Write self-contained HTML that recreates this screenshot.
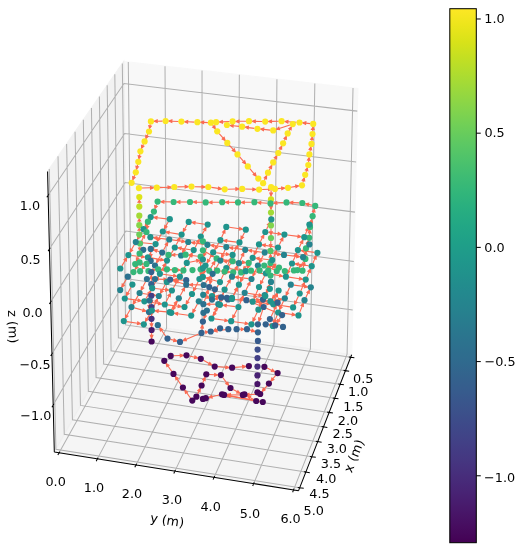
<!DOCTYPE html>
<html><head><meta charset="utf-8"><style>
html,body{margin:0;padding:0;background:#fff;}
#w{position:relative;width:523px;height:550px;overflow:hidden;}
#w>svg{position:absolute;left:0;top:0;}
text{font-family:"DejaVu Sans","Liberation Sans",sans-serif;font-size:12.8px;fill:#000;}
</style></head><body><div id="w">
<svg width="523" height="550" viewBox="0 0 523 550">
<path d="M126.90,322.54L351.67,354.74L357.81,88.53L123.71,61.39Z" fill="#f2f2f2" stroke="#f2f2f2" stroke-width="1.28" stroke-linejoin="miter" opacity="0.5"/>
<path d="M126.90,322.54L54.32,452.06L47.57,171.43L123.71,61.39Z" fill="#e6e6e6" stroke="#e6e6e6" stroke-width="1.28" stroke-linejoin="miter" opacity="0.5"/>
<path d="M126.90,322.54L54.32,452.06L298.59,490.66L351.67,354.74Z" fill="#ececec" stroke="#ececec" stroke-width="1.28" stroke-linejoin="miter" opacity="0.5"/>
<path d="M350.70,357.23L125.57,324.91L122.32,63.40M345.46,370.64L118.39,337.72L114.81,74.24M340.12,384.30L111.09,350.76L107.17,85.29M334.68,398.23L103.64,364.04L99.37,96.56M329.14,412.42L96.06,377.57L91.43,108.04M323.49,426.89L88.34,391.36L83.32,119.76M317.73,441.64L80.46,405.41L75.06,131.70M311.85,456.69L72.44,419.74L66.62,143.89M305.86,472.03L64.25,434.34L58.02,156.33M299.75,487.69L55.91,449.24L49.24,169.02M128.28,61.92L131.29,323.17L59.09,452.81M165.01,66.18L166.59,328.23L97.38,458.87M202.03,70.47L202.15,333.32L135.98,464.97M239.34,74.79L237.97,338.45L174.90,471.12M276.94,79.15L274.07,343.62L214.13,477.32M314.83,83.54L310.43,348.83L253.69,483.57M353.02,87.97L347.07,354.08L293.58,489.87M53.19,405.09L126.36,278.69L352.70,310.08M51.96,353.93L125.78,230.99L353.82,261.47M50.71,301.93L125.19,182.58L354.96,212.13M49.44,249.07L124.59,133.44L356.12,162.02M48.15,195.33L123.98,83.55L357.29,111.13" fill="none" stroke="#b0b0b0" stroke-width="1.022"/>
<path d="M351.67,354.74L298.59,490.66M54.32,452.06L298.59,490.66M54.32,452.06L47.57,171.43M348.85,356.96L354.38,357.76M343.60,370.37L349.18,371.18M338.25,384.03L343.88,384.85M332.79,397.95L338.47,398.79M327.23,412.13L332.96,412.99M321.56,426.60L327.35,427.47M315.79,441.34L321.62,442.24M309.89,456.38L315.78,457.29M303.88,471.72L309.83,472.65M297.75,487.38L303.75,488.32M59.72,451.68L57.83,455.08M97.99,457.72L96.17,461.15M136.56,463.81L134.82,467.27M175.45,469.96L173.79,473.44M214.66,476.15L213.08,479.66M254.19,482.39L252.70,485.93M294.05,488.68L292.64,492.25M53.83,403.98L51.91,407.30M52.61,352.85L50.67,356.08M51.36,300.88L49.40,304.02M50.10,248.05L48.12,251.10M48.81,194.35L46.81,197.29" fill="none" stroke="#000" stroke-width="1.022" stroke-linecap="butt"/>
<g id="arrows" stroke="#fb6a52" fill="#fb6a52" stroke-width="1.1"><line x1="310.2" y1="123.6" x2="305.8" y2="123.1"/><path d="M302.7,122.8L305.9,121.8L305.6,124.4Z"/><line x1="296.5" y1="122.3" x2="287.9" y2="121.7"/><path d="M284.8,121.4L288.0,120.4L287.8,123.0Z"/><line x1="278.6" y1="121.3" x2="271.5" y2="121.4"/><path d="M268.4,121.5L271.5,120.1L271.5,122.7Z"/><line x1="262.2" y1="121.5" x2="255.3" y2="121.4"/><path d="M252.2,121.3L255.3,120.1L255.3,122.7Z"/><line x1="246.0" y1="121.2" x2="238.9" y2="121.3"/><path d="M235.8,121.4L238.9,120.0L238.9,122.6Z"/><line x1="229.6" y1="121.5" x2="222.4" y2="121.9"/><path d="M219.3,122.0L222.3,120.6L222.5,123.2Z"/><line x1="207.9" y1="122.6" x2="203.7" y2="122.4"/><path d="M200.6,122.3L203.7,121.1L203.6,123.7Z"/><line x1="194.4" y1="122.1" x2="187.7" y2="121.8"/><path d="M184.6,121.7L187.7,120.5L187.6,123.1Z"/><line x1="178.4" y1="121.5" x2="171.9" y2="121.2"/><path d="M168.8,121.1L171.9,119.9L171.8,122.5Z"/><line x1="162.6" y1="121.1" x2="157.2" y2="121.2"/><path d="M154.1,121.3L157.2,119.9L157.2,122.5Z"/><line x1="150.3" y1="124.3" x2="150.0" y2="126.0"/><path d="M149.6,128.4L148.8,125.7L151.3,126.2Z"/><line x1="147.8" y1="134.2" x2="147.0" y2="135.9"/><path d="M145.9,138.5L145.8,135.4L148.2,136.5Z"/><line x1="143.4" y1="144.2" x2="142.7" y2="145.8"/><path d="M141.6,148.4L141.5,145.3L143.9,146.3Z"/><line x1="139.8" y1="154.2" x2="139.5" y2="156.0"/><path d="M138.9,158.7L138.2,155.8L140.7,156.3Z"/><line x1="137.6" y1="164.7" x2="137.2" y2="166.5"/><path d="M136.5,169.2L135.9,166.2L138.4,166.8Z"/><line x1="134.7" y1="175.1" x2="133.9" y2="177.0"/><path d="M132.8,179.8L132.7,176.5L135.1,177.5Z"/><line x1="141.9" y1="188.0" x2="150.5" y2="187.8"/><path d="M153.6,187.8L150.5,189.1L150.5,186.5Z"/><line x1="159.8" y1="187.6" x2="168.0" y2="187.3"/><path d="M171.1,187.1L168.1,188.6L168.0,186.0Z"/><line x1="177.3" y1="186.9" x2="185.2" y2="186.7"/><path d="M188.3,186.7L185.2,188.0L185.2,185.4Z"/><line x1="194.5" y1="186.7" x2="202.0" y2="186.9"/><path d="M205.1,186.9L202.0,188.1L202.0,185.6Z"/><line x1="211.3" y1="187.4" x2="218.5" y2="188.4"/><path d="M221.5,188.9L218.3,189.7L218.6,187.1Z"/><line x1="227.7" y1="189.2" x2="235.9" y2="189.0"/><path d="M239.0,189.0L235.9,190.3L235.9,187.7Z"/><line x1="245.2" y1="189.0" x2="252.8" y2="189.3"/><path d="M255.9,189.5L252.8,190.6L252.9,188.0Z"/><line x1="262.1" y1="189.5" x2="268.6" y2="189.2"/><path d="M271.7,189.0L268.7,190.5L268.5,187.9Z"/><line x1="277.9" y1="188.6" x2="281.7" y2="188.3"/><path d="M284.8,188.1L281.8,189.6L281.6,187.0Z"/><line x1="291.0" y1="187.3" x2="295.8" y2="186.4"/><path d="M298.8,185.9L296.0,187.7L295.6,185.1Z"/><line x1="302.9" y1="182.4" x2="303.4" y2="180.6"/><path d="M304.3,177.9L304.7,181.0L302.2,180.2Z"/><line x1="306.1" y1="171.9" x2="306.6" y2="170.4"/><path d="M307.3,168.1L307.8,170.8L305.4,170.0Z"/><line x1="308.6" y1="162.0" x2="308.8" y2="160.2"/><path d="M309.1,157.6L310.1,160.4L307.5,160.1Z"/><line x1="310.0" y1="151.5" x2="310.3" y2="149.7"/><path d="M310.9,147.0L311.6,149.9L309.1,149.4Z"/><line x1="311.8" y1="140.9" x2="312.0" y2="139.4"/><path d="M312.2,137.2L313.2,139.6L310.7,139.3Z"/><line x1="312.7" y1="131.0" x2="312.8" y2="129.4"/><path d="M313.0,127.1L314.1,129.5L311.5,129.4Z"/><line x1="212.7" y1="125.1" x2="213.7" y2="126.6"/><path d="M215.3,128.7L212.7,127.3L214.8,125.8Z"/><line x1="219.2" y1="133.6" x2="223.2" y2="138.1"/><path d="M225.2,140.5L222.2,139.0L224.1,137.3Z"/><line x1="229.3" y1="145.1" x2="233.3" y2="149.7"/><path d="M235.4,152.0L232.3,150.5L234.3,148.8Z"/><line x1="239.5" y1="156.7" x2="243.7" y2="161.6"/><path d="M245.7,164.0L242.7,162.5L244.7,160.8Z"/><line x1="249.8" y1="168.7" x2="254.2" y2="173.8"/><path d="M256.2,176.2L253.2,174.7L255.2,173.0Z"/><line x1="264.4" y1="180.5" x2="265.3" y2="178.4"/><path d="M266.6,175.6L266.5,179.0L264.2,177.9Z"/><line x1="269.4" y1="170.0" x2="270.4" y2="168.0"/><path d="M271.8,165.3L271.5,168.6L269.2,167.4Z"/><line x1="274.6" y1="159.8" x2="275.5" y2="158.2"/><path d="M276.8,155.8L276.6,158.8L274.3,157.6Z"/><line x1="279.6" y1="150.3" x2="280.5" y2="148.7"/><path d="M281.7,146.2L281.6,149.2L279.3,148.1Z"/><line x1="284.4" y1="140.6" x2="285.2" y2="138.9"/><path d="M286.4,136.3L286.3,139.4L284.0,138.3Z"/><line x1="289.1" y1="130.8" x2="290.0" y2="129.2"/><path d="M291.3,126.9L291.1,129.8L288.9,128.6Z"/><line x1="289.9" y1="125.0" x2="279.2" y2="128.5"/><path d="M276.2,129.4L278.8,127.2L279.6,129.7Z"/><line x1="270.2" y1="130.1" x2="263.7" y2="129.4"/><path d="M260.6,129.1L263.8,128.1L263.5,130.7Z"/><line x1="254.4" y1="128.4" x2="248.3" y2="127.6"/><path d="M245.3,127.1L248.5,126.3L248.2,128.8Z"/><line x1="239.1" y1="126.4" x2="233.2" y2="125.7"/><path d="M230.1,125.4L233.3,124.4L233.0,127.0Z"/><line x1="271.1" y1="190.2" x2="271.1" y2="193.0"/><path d="M271.0,196.1L269.8,193.0L272.4,193.0Z"/><line x1="271.0" y1="202.3" x2="271.0" y2="206.2"/><path d="M271.0,209.3L269.7,206.2L272.3,206.2Z"/><line x1="271.0" y1="215.5" x2="271.0" y2="219.1"/><path d="M271.0,222.2L269.7,219.1L272.3,219.1Z"/><line x1="271.0" y1="228.4" x2="271.0" y2="231.7"/><path d="M271.0,234.8L269.7,231.7L272.3,231.7Z"/><line x1="270.9" y1="241.0" x2="270.7" y2="244.6"/><path d="M270.6,247.7L269.4,244.6L272.0,244.7Z"/><line x1="139.3" y1="231.6" x2="139.3" y2="230.3"/><path d="M139.3,228.4L140.6,230.3L138.0,230.3Z"/><line x1="139.3" y1="222.2" x2="139.3" y2="220.9"/><path d="M139.3,218.9L140.6,220.9L138.0,220.9Z"/><line x1="139.3" y1="203.6" x2="139.3" y2="202.2"/><path d="M139.3,200.2L140.6,202.2L138.0,202.2Z"/><line x1="305.6" y1="255.9" x2="305.7" y2="254.1"/><path d="M305.8,251.5L307.0,254.2L304.4,254.1Z"/><line x1="306.9" y1="245.4" x2="307.4" y2="243.6"/><path d="M308.3,240.9L308.7,244.0L306.2,243.2Z"/><line x1="309.4" y1="234.8" x2="309.6" y2="232.9"/><path d="M309.8,230.1L310.9,233.0L308.3,232.8Z"/><line x1="310.7" y1="224.0" x2="311.2" y2="222.1"/><path d="M311.8,219.3L312.4,222.4L309.9,221.8Z"/><line x1="313.3" y1="213.3" x2="313.8" y2="211.6"/><path d="M314.4,209.0L315.0,211.9L312.5,211.3Z"/><line x1="312.3" y1="205.2" x2="308.4" y2="204.4"/><path d="M305.4,203.7L308.7,203.1L308.2,205.7Z"/><line x1="299.3" y1="202.9" x2="292.8" y2="202.6"/><path d="M289.7,202.5L292.8,201.3L292.7,203.9Z"/><line x1="283.5" y1="202.6" x2="276.8" y2="203.0"/><path d="M273.7,203.2L276.7,201.7L276.9,204.3Z"/><line x1="267.5" y1="203.2" x2="260.7" y2="202.7"/><path d="M257.6,202.4L260.8,201.4L260.6,204.0Z"/><line x1="251.4" y1="202.2" x2="244.3" y2="202.3"/><path d="M241.2,202.4L244.3,201.0L244.3,203.6Z"/><line x1="235.0" y1="202.4" x2="228.5" y2="202.3"/><path d="M225.4,202.2L228.5,201.0L228.5,203.6Z"/><line x1="219.2" y1="202.2" x2="212.0" y2="202.3"/><path d="M208.9,202.4L212.0,201.0L212.0,203.6Z"/><line x1="202.7" y1="202.3" x2="196.3" y2="202.2"/><path d="M193.2,202.1L196.3,200.9L196.3,203.5Z"/><line x1="187.0" y1="202.0" x2="179.9" y2="202.0"/><path d="M176.8,202.0L179.9,200.7L179.9,203.3Z"/><line x1="170.6" y1="201.9" x2="163.9" y2="201.8"/><path d="M160.8,201.7L163.9,200.5L163.9,203.1Z"/><line x1="156.6" y1="204.4" x2="155.9" y2="206.1"/><path d="M155.0,208.6L154.7,205.6L157.2,206.5Z"/><line x1="152.4" y1="214.2" x2="151.1" y2="216.3"/><path d="M149.5,218.9L150.0,215.6L152.2,216.9Z"/><line x1="147.5" y1="224.7" x2="147.3" y2="226.3"/><path d="M146.9,228.8L146.0,226.2L148.6,226.5Z"/><line x1="151.4" y1="298.8" x2="151.4" y2="300.8"/><path d="M151.4,303.8L150.1,300.8L152.7,300.8Z"/><line x1="151.5" y1="310.0" x2="151.5" y2="312.5"/><path d="M151.5,315.6L150.2,312.5L152.8,312.5Z"/><line x1="151.5" y1="321.8" x2="151.5" y2="323.8"/><path d="M151.6,326.8L150.2,323.8L152.8,323.8Z"/><line x1="151.6" y1="333.0" x2="151.6" y2="335.2"/><path d="M151.6,338.3L150.3,335.2L152.9,335.2Z"/><line x1="190.6" y1="398.2" x2="186.6" y2="392.6"/><path d="M184.8,390.1L187.6,391.9L185.5,393.4Z"/><line x1="181.2" y1="385.0" x2="177.1" y2="379.1"/><path d="M175.3,376.5L178.2,378.3L176.0,379.8Z"/><line x1="171.8" y1="371.4" x2="167.9" y2="366.0"/><path d="M166.1,363.4L169.0,365.2L166.9,366.7Z"/><line x1="173.7" y1="355.8" x2="180.2" y2="355.5"/><path d="M183.3,355.4L180.3,356.8L180.2,354.2Z"/><line x1="189.4" y1="356.0" x2="194.7" y2="357.3"/><path d="M197.7,358.0L194.4,358.6L195.0,356.0Z"/><line x1="203.4" y1="360.3" x2="209.2" y2="363.5"/><path d="M211.9,365.0L208.6,364.7L209.8,362.4Z"/><line x1="217.7" y1="366.8" x2="225.8" y2="367.3"/><path d="M228.9,367.5L225.7,368.6L225.9,366.0Z"/><line x1="235.1" y1="367.4" x2="242.6" y2="366.7"/><path d="M245.7,366.4L242.8,368.0L242.5,365.4Z"/><line x1="267.1" y1="368.1" x2="271.9" y2="370.4"/><path d="M274.7,371.7L271.4,371.6L272.5,369.2Z"/><line x1="275.7" y1="375.4" x2="272.9" y2="378.7"/><path d="M270.9,381.1L271.9,377.9L273.9,379.6Z"/><line x1="267.0" y1="385.9" x2="264.2" y2="389.2"/><path d="M262.3,391.5L263.2,388.3L265.2,390.0Z"/><line x1="253.6" y1="399.5" x2="250.0" y2="397.5"/><path d="M247.3,396.0L250.6,396.4L249.3,398.6Z"/><line x1="239.8" y1="394.9" x2="230.4" y2="394.9"/><path d="M227.3,394.9L230.4,393.6L230.4,396.2Z"/><line x1="219.1" y1="395.0" x2="211.9" y2="396.7"/><path d="M208.9,397.5L211.6,395.5L212.2,398.0Z"/><line x1="197.7" y1="394.0" x2="198.9" y2="391.2"/><path d="M200.3,388.4L200.1,391.8L197.8,390.7Z"/><line x1="202.8" y1="382.7" x2="203.9" y2="380.1"/><path d="M205.1,377.3L205.1,380.6L202.7,379.6Z"/><line x1="209.3" y1="374.5" x2="214.6" y2="374.8"/><path d="M217.7,374.9L214.5,376.1L214.7,373.5Z"/><line x1="222.7" y1="377.5" x2="226.7" y2="382.9"/><path d="M228.6,385.4L225.7,383.7L227.8,382.2Z"/><line x1="233.1" y1="389.5" x2="237.3" y2="391.8"/><path d="M240.0,393.3L236.7,393.0L237.9,390.7Z"/><line x1="126.8" y1="321.6" x2="137.6" y2="323.3"/><path d="M140.6,323.8L137.4,324.6L137.8,322.0Z"/><line x1="130.1" y1="309.7" x2="126.8" y2="315.6"/><path d="M125.3,318.3L125.7,315.0L128.0,316.2Z"/><line x1="165.7" y1="336.2" x2="161.5" y2="330.3"/><path d="M159.7,327.8L162.5,329.5L160.4,331.1Z"/><line x1="198.7" y1="334.1" x2="185.8" y2="339.5"/><path d="M183.0,340.7L185.3,338.3L186.3,340.7Z"/><line x1="217.3" y1="329.3" x2="215.8" y2="329.7"/><path d="M213.7,330.5L215.4,328.5L216.3,331.0Z"/><line x1="239.6" y1="329.2" x2="241.3" y2="329.2"/><path d="M243.8,329.2L241.3,330.5L241.3,327.9Z"/><line x1="249.9" y1="330.0" x2="251.9" y2="330.6"/><path d="M254.8,331.4L251.5,331.8L252.2,329.3Z"/><line x1="202.3" y1="234.0" x2="204.6" y2="230.1"/><path d="M206.1,227.4L205.7,230.7L203.4,229.4Z"/><line x1="204.7" y1="224.2" x2="194.9" y2="222.8"/><path d="M191.9,222.4L195.1,221.5L194.8,224.1Z"/><line x1="187.2" y1="224.5" x2="184.7" y2="229.1"/><path d="M183.2,231.8L183.5,228.5L185.8,229.7Z"/><line x1="221.6" y1="237.5" x2="223.7" y2="232.7"/><path d="M225.0,229.8L224.9,233.2L222.6,232.1Z"/><line x1="229.3" y1="227.3" x2="239.6" y2="228.8"/><path d="M242.6,229.2L239.4,230.1L239.7,227.5Z"/><line x1="244.5" y1="232.4" x2="242.3" y2="236.8"/><path d="M240.9,239.5L241.1,236.2L243.5,237.3Z"/><line x1="166.8" y1="218.9" x2="157.0" y2="217.8"/><path d="M153.9,217.4L157.1,216.5L156.8,219.1Z"/><line x1="268.3" y1="232.4" x2="278.2" y2="233.8"/><path d="M281.2,234.2L278.0,235.0L278.3,232.5Z"/><line x1="253.3" y1="400.4" x2="230.3" y2="396.1"/><path d="M227.2,395.5L230.5,394.8L230.0,397.4Z"/><line x1="259.9" y1="401.4" x2="228.2" y2="395.5"/><path d="M225.1,394.9L228.4,394.2L227.9,396.7Z"/><line x1="257.2" y1="394.2" x2="249.1" y2="394.6"/><path d="M246.0,394.7L249.0,393.3L249.2,395.9Z"/><line x1="272.2" y1="325.1" x2="270.9" y2="324.9"/><path d="M268.9,324.7L271.0,323.6L270.7,326.2Z"/><line x1="204.5" y1="332.4" x2="205.7" y2="332.3"/><path d="M207.5,332.0L205.9,333.5L205.5,331.0Z"/><line x1="276.4" y1="266.1" x2="275.1" y2="265.4"/><path d="M273.3,264.4L275.8,264.3L274.5,266.6Z"/><line x1="218.3" y1="298.1" x2="217.0" y2="298.4"/><path d="M215.1,298.9L216.7,297.1L217.3,299.7Z"/><line x1="151.4" y1="270.5" x2="152.8" y2="270.2"/><path d="M155.0,269.8L153.1,271.5L152.6,269.0Z"/><line x1="244.2" y1="271.9" x2="245.6" y2="271.6"/><path d="M247.8,271.2L245.9,272.9L245.4,270.4Z"/><line x1="205.8" y1="296.2" x2="207.2" y2="297.0"/><path d="M209.2,298.1L206.6,298.1L207.8,295.8Z"/><line x1="144.5" y1="266.2" x2="143.6" y2="267.2"/><path d="M142.2,268.8L142.6,266.4L144.6,268.1Z"/><line x1="138.2" y1="264.0" x2="140.2" y2="264.0"/><path d="M143.3,264.0L140.3,265.3L140.2,262.7Z"/><line x1="139.9" y1="246.5" x2="139.8" y2="248.0"/><path d="M139.7,250.3L138.5,248.0L141.1,248.1Z"/><line x1="212.8" y1="296.7" x2="213.3" y2="295.0"/><path d="M214.0,292.4L214.6,295.3L212.0,294.6Z"/><line x1="159.3" y1="251.7" x2="156.7" y2="250.8"/><path d="M153.7,249.9L157.1,249.6L156.3,252.1Z"/><line x1="206.5" y1="286.1" x2="209.0" y2="287.0"/><path d="M211.9,288.2L208.6,288.3L209.5,285.8Z"/><line x1="202.0" y1="271.0" x2="201.3" y2="273.0"/><path d="M200.4,276.0L200.1,272.6L202.6,273.4Z"/><line x1="138.4" y1="256.3" x2="137.6" y2="258.3"/><path d="M136.4,261.1L136.4,257.8L138.8,258.8Z"/><line x1="138.0" y1="264.9" x2="136.9" y2="266.8"/><path d="M135.2,269.4L135.8,266.1L138.0,267.5Z"/><line x1="170.4" y1="339.4" x2="173.9" y2="340.3"/><path d="M176.9,341.1L173.6,341.5L174.2,339.0Z"/><line x1="201.9" y1="329.9" x2="202.1" y2="327.9"/><path d="M202.5,324.8L203.4,328.0L200.8,327.7Z"/><line x1="204.8" y1="268.5" x2="204.3" y2="270.8"/><path d="M203.6,273.8L203.0,270.5L205.6,271.1Z"/><line x1="205.9" y1="313.3" x2="205.0" y2="315.7"/><path d="M204.0,318.6L203.8,315.2L206.3,316.1Z"/><line x1="149.4" y1="303.5" x2="149.3" y2="305.7"/><path d="M149.2,308.8L148.0,305.6L150.6,305.8Z"/><line x1="303.2" y1="267.8" x2="303.9" y2="265.0"/><path d="M304.6,262.0L305.2,265.3L302.6,264.7Z"/><line x1="246.8" y1="265.3" x2="245.1" y2="267.5"/><path d="M243.2,269.9L244.1,266.6L246.1,268.3Z"/><line x1="280.4" y1="317.6" x2="278.7" y2="320.2"/><path d="M277.0,322.7L277.6,319.4L279.8,320.9Z"/><line x1="270.5" y1="259.9" x2="270.5" y2="257.2"/><path d="M270.5,254.1L271.8,257.2L269.2,257.2Z"/><line x1="150.7" y1="251.9" x2="150.7" y2="254.6"/><path d="M150.7,257.7L149.4,254.6L152.0,254.6Z"/><line x1="274.1" y1="269.8" x2="270.0" y2="268.0"/><path d="M267.1,266.8L270.5,266.8L269.5,269.2Z"/><line x1="151.3" y1="281.2" x2="151.3" y2="278.4"/><path d="M151.3,275.3L152.6,278.4L150.0,278.4Z"/><line x1="141.5" y1="240.9" x2="143.4" y2="237.5"/><path d="M144.9,234.8L144.5,238.1L142.3,236.8Z"/><line x1="200.6" y1="266.3" x2="200.6" y2="262.9"/><path d="M200.6,259.8L201.9,262.9L199.3,262.9Z"/><line x1="267.2" y1="265.9" x2="272.8" y2="266.7"/><path d="M275.8,267.1L272.6,267.9L272.9,265.4Z"/><line x1="265.9" y1="300.2" x2="271.4" y2="301.4"/><path d="M274.5,302.0L271.2,302.7L271.7,300.1Z"/><line x1="230.8" y1="263.6" x2="228.5" y2="266.5"/><path d="M226.6,269.0L227.4,265.7L229.5,267.3Z"/><line x1="215.3" y1="304.2" x2="209.7" y2="304.2"/><path d="M206.6,304.2L209.7,302.9L209.7,305.5Z"/><line x1="305.4" y1="234.4" x2="307.0" y2="230.4"/><path d="M308.2,227.6L308.2,230.9L305.8,230.0Z"/><line x1="197.6" y1="256.2" x2="191.9" y2="255.5"/><path d="M188.8,255.1L192.0,254.2L191.7,256.8Z"/><line x1="211.9" y1="276.7" x2="210.8" y2="280.9"/><path d="M210.0,283.9L209.5,280.6L212.0,281.2Z"/><line x1="158.0" y1="279.1" x2="163.9" y2="279.4"/><path d="M167.0,279.5L163.9,280.7L164.0,278.1Z"/><line x1="273.4" y1="300.7" x2="278.6" y2="299.6"/><path d="M281.7,299.0L278.9,300.9L278.4,298.3Z"/><line x1="276.8" y1="292.9" x2="274.3" y2="296.3"/><path d="M272.4,298.7L273.2,295.5L275.3,297.0Z"/><line x1="273.5" y1="257.4" x2="275.4" y2="253.2"/><path d="M276.7,250.4L276.5,253.8L274.2,252.7Z"/><line x1="260.4" y1="241.7" x2="262.4" y2="237.6"/><path d="M263.9,234.9L263.6,238.2L261.3,237.0Z"/><line x1="266.6" y1="229.3" x2="268.6" y2="225.1"/><path d="M269.9,222.3L269.8,225.6L267.4,224.5Z"/><line x1="303.7" y1="261.3" x2="301.1" y2="265.0"/><path d="M299.3,267.5L300.0,264.2L302.1,265.7Z"/><line x1="149.2" y1="219.7" x2="146.8" y2="223.8"/><path d="M145.2,226.4L145.7,223.1L147.9,224.4Z"/><line x1="168.3" y1="221.8" x2="165.9" y2="226.0"/><path d="M164.4,228.7L164.8,225.4L167.0,226.7Z"/><line x1="218.9" y1="242.8" x2="216.4" y2="247.0"/><path d="M214.8,249.6L215.3,246.3L217.5,247.6Z"/><line x1="304.4" y1="254.5" x2="306.6" y2="250.1"/><path d="M308.0,247.3L307.8,250.6L305.5,249.5Z"/><line x1="234.0" y1="252.3" x2="236.5" y2="247.9"/><path d="M238.0,245.2L237.6,248.5L235.3,247.3Z"/><line x1="305.8" y1="297.5" x2="308.0" y2="293.0"/><path d="M309.4,290.2L309.2,293.5L306.9,292.4Z"/><line x1="280.4" y1="325.4" x2="275.3" y2="322.3"/><path d="M272.6,320.7L276.0,321.2L274.6,323.4Z"/><line x1="279.3" y1="244.8" x2="281.6" y2="240.2"/><path d="M283.0,237.5L282.8,240.8L280.4,239.7Z"/><line x1="299.2" y1="247.4" x2="301.5" y2="242.8"/><path d="M302.9,240.1L302.7,243.4L300.3,242.3Z"/><line x1="183.2" y1="280.1" x2="176.5" y2="279.8"/><path d="M173.4,279.7L176.5,278.5L176.4,281.1Z"/><line x1="220.2" y1="271.0" x2="226.9" y2="271.7"/><path d="M230.0,272.1L226.8,273.0L227.1,270.4Z"/><line x1="210.7" y1="268.1" x2="213.4" y2="263.8"/><path d="M215.0,261.1L214.5,264.5L212.2,263.1Z"/><line x1="277.1" y1="315.3" x2="275.1" y2="320.2"/><path d="M274.0,323.0L273.9,319.7L276.3,320.6Z"/><line x1="290.7" y1="266.2" x2="288.5" y2="271.0"/><path d="M287.2,273.8L287.4,270.4L289.7,271.5Z"/><line x1="312.9" y1="263.4" x2="314.9" y2="258.6"/><path d="M316.1,255.7L316.1,259.1L313.7,258.1Z"/><line x1="235.6" y1="261.5" x2="242.4" y2="262.2"/><path d="M245.5,262.6L242.3,263.5L242.6,260.9Z"/><line x1="188.2" y1="260.3" x2="190.7" y2="255.6"/><path d="M192.2,252.9L191.9,256.3L189.6,255.0Z"/><line x1="229.6" y1="260.7" x2="222.8" y2="259.5"/><path d="M219.8,259.0L223.0,258.2L222.6,260.8Z"/><line x1="161.3" y1="234.1" x2="158.7" y2="238.6"/><path d="M157.2,241.3L157.6,238.0L159.9,239.3Z"/><line x1="176.2" y1="244.8" x2="178.7" y2="240.2"/><path d="M180.1,237.4L179.8,240.8L177.5,239.6Z"/><line x1="263.3" y1="255.3" x2="260.8" y2="259.9"/><path d="M259.4,262.7L259.7,259.3L262.0,260.5Z"/><line x1="293.2" y1="260.8" x2="295.4" y2="255.9"/><path d="M296.6,253.0L296.6,256.4L294.2,255.3Z"/><line x1="270.9" y1="262.8" x2="268.6" y2="267.6"/><path d="M267.3,270.4L267.4,267.1L269.8,268.2Z"/><line x1="227.6" y1="265.4" x2="229.9" y2="260.6"/><path d="M231.2,257.8L231.1,261.1L228.7,260.0Z"/><line x1="266.0" y1="292.4" x2="268.3" y2="287.6"/><path d="M269.6,284.8L269.5,288.1L267.1,287.0Z"/><line x1="274.4" y1="301.4" x2="276.3" y2="296.4"/><path d="M277.4,293.5L277.5,296.8L275.1,295.9Z"/><line x1="306.9" y1="276.9" x2="309.1" y2="271.9"/><path d="M310.4,269.1L310.3,272.5L307.9,271.4Z"/><line x1="200.6" y1="276.3" x2="202.9" y2="271.3"/><path d="M204.2,268.5L204.1,271.9L201.7,270.8Z"/><line x1="205.6" y1="282.7" x2="208.7" y2="278.7"/><path d="M210.6,276.3L209.7,279.5L207.7,277.9Z"/><line x1="225.1" y1="249.8" x2="222.9" y2="254.8"/><path d="M221.6,257.7L221.7,254.3L224.0,255.4Z"/><line x1="240.2" y1="260.5" x2="242.5" y2="255.5"/><path d="M243.8,252.7L243.7,256.1L241.3,254.9Z"/><line x1="257.7" y1="247.1" x2="255.4" y2="252.1"/><path d="M254.1,254.9L254.2,251.5L256.6,252.7Z"/><line x1="170.0" y1="269.5" x2="177.1" y2="270.0"/><path d="M180.2,270.2L177.0,271.3L177.2,268.7Z"/><line x1="160.7" y1="255.2" x2="158.1" y2="260.0"/><path d="M156.6,262.7L156.9,259.4L159.2,260.6Z"/><line x1="289.6" y1="287.4" x2="287.3" y2="292.5"/><path d="M286.1,295.4L286.2,292.0L288.5,293.1Z"/><line x1="233.4" y1="295.2" x2="236.0" y2="290.3"/><path d="M237.4,287.5L237.1,290.9L234.8,289.7Z"/><line x1="256.6" y1="268.2" x2="254.2" y2="273.3"/><path d="M252.9,276.1L253.0,272.8L255.4,273.9Z"/><line x1="163.6" y1="250.0" x2="166.3" y2="245.0"/><path d="M167.8,242.3L167.4,245.7L165.2,244.4Z"/><line x1="226.1" y1="287.0" x2="228.9" y2="282.2"/><path d="M230.4,279.5L230.0,282.8L227.7,281.5Z"/><line x1="171.8" y1="270.0" x2="164.5" y2="269.6"/><path d="M161.4,269.5L164.6,268.3L164.4,270.9Z"/><line x1="205.5" y1="251.8" x2="211.2" y2="255.2"/><path d="M213.8,256.8L210.5,256.3L211.8,254.1Z"/><line x1="161.3" y1="271.2" x2="164.0" y2="266.1"/><path d="M165.5,263.4L165.2,266.8L162.9,265.5Z"/><line x1="134.3" y1="244.7" x2="131.5" y2="249.6"/><path d="M130.0,252.3L130.4,249.0L132.6,250.3Z"/><line x1="190.5" y1="296.6" x2="187.6" y2="301.5"/><path d="M186.1,304.2L186.5,300.9L188.8,302.2Z"/><line x1="251.3" y1="260.5" x2="248.7" y2="265.6"/><path d="M247.3,268.4L247.5,265.0L249.8,266.2Z"/><line x1="249.4" y1="300.1" x2="256.7" y2="299.8"/><path d="M259.8,299.7L256.8,301.1L256.7,298.5Z"/><line x1="300.9" y1="290.7" x2="303.2" y2="285.4"/><path d="M304.4,282.5L304.4,285.9L302.0,284.9Z"/><line x1="233.4" y1="274.0" x2="236.0" y2="268.8"/><path d="M237.4,266.0L237.2,269.4L234.9,268.2Z"/><line x1="244.4" y1="273.9" x2="241.8" y2="279.1"/><path d="M240.4,281.9L240.6,278.5L242.9,279.7Z"/><line x1="142.0" y1="231.8" x2="139.1" y2="236.7"/><path d="M137.5,239.4L137.9,236.0L140.2,237.4Z"/><line x1="183.3" y1="283.8" x2="176.2" y2="281.5"/><path d="M173.2,280.6L176.6,280.3L175.8,282.8Z"/><line x1="259.8" y1="307.0" x2="262.4" y2="301.7"/><path d="M263.9,299.0L263.6,302.3L261.3,301.1Z"/><line x1="269.9" y1="284.7" x2="267.6" y2="290.3"/><path d="M266.5,293.1L266.4,289.8L268.9,290.7Z"/><line x1="186.8" y1="244.7" x2="184.0" y2="249.9"/><path d="M182.6,252.7L182.9,249.3L185.2,250.5Z"/><line x1="195.1" y1="247.4" x2="197.9" y2="242.2"/><path d="M199.3,239.4L199.0,242.8L196.7,241.6Z"/><line x1="221.2" y1="279.4" x2="223.7" y2="273.8"/><path d="M225.0,271.0L224.9,274.4L222.5,273.3Z"/><line x1="145.9" y1="298.7" x2="149.0" y2="293.6"/><path d="M150.6,290.9L150.1,294.3L147.9,292.9Z"/><line x1="173.3" y1="250.1" x2="170.2" y2="255.2"/><path d="M168.6,257.9L169.1,254.5L171.3,255.9Z"/><line x1="264.6" y1="276.0" x2="261.8" y2="281.4"/><path d="M260.4,284.1L260.7,280.8L263.0,282.0Z"/><line x1="218.8" y1="263.2" x2="215.8" y2="268.4"/><path d="M214.2,271.0L214.7,267.7L216.9,269.0Z"/><line x1="211.7" y1="255.0" x2="208.7" y2="260.2"/><path d="M207.1,262.8L207.6,259.5L209.8,260.8Z"/><line x1="206.5" y1="247.7" x2="204.7" y2="253.5"/><path d="M203.8,256.4L203.5,253.1L206.0,253.9Z"/><line x1="298.4" y1="296.2" x2="295.8" y2="301.7"/><path d="M294.5,304.5L294.6,301.2L297.0,302.3Z"/><line x1="246.0" y1="290.1" x2="248.7" y2="284.7"/><path d="M250.1,281.9L249.9,285.2L247.5,284.1Z"/><line x1="189.7" y1="262.3" x2="196.7" y2="260.8"/><path d="M199.8,260.2L197.0,262.1L196.5,259.5Z"/><line x1="185.5" y1="265.6" x2="182.7" y2="271.1"/><path d="M181.3,273.8L181.6,270.5L183.9,271.6Z"/><line x1="149.4" y1="254.8" x2="152.4" y2="249.6"/><path d="M154.0,246.9L153.6,250.2L151.3,248.9Z"/><line x1="126.3" y1="279.3" x2="123.3" y2="284.6"/><path d="M121.8,287.3L122.2,284.0L124.4,285.3Z"/><line x1="182.6" y1="254.7" x2="174.8" y2="254.8"/><path d="M171.7,254.9L174.8,253.5L174.8,256.1Z"/><line x1="239.6" y1="304.3" x2="242.1" y2="298.6"/><path d="M243.4,295.7L243.3,299.1L241.0,298.0Z"/><line x1="180.2" y1="295.7" x2="183.2" y2="290.2"/><path d="M184.7,287.5L184.3,290.9L182.0,289.6Z"/><line x1="283.5" y1="301.0" x2="280.9" y2="306.8"/><path d="M279.5,309.6L279.7,306.2L282.0,307.3Z"/><line x1="166.2" y1="301.8" x2="169.1" y2="296.1"/><path d="M170.5,293.4L170.2,296.7L167.9,295.5Z"/><line x1="121.9" y1="265.9" x2="125.1" y2="260.5"/><path d="M126.7,257.8L126.3,261.2L124.0,259.8Z"/><line x1="145.5" y1="281.7" x2="142.5" y2="287.4"/><path d="M141.1,290.2L141.4,286.8L143.7,288.0Z"/><line x1="200.7" y1="284.9" x2="192.5" y2="284.8"/><path d="M189.4,284.8L192.5,283.5L192.5,286.1Z"/><line x1="212.8" y1="315.8" x2="215.6" y2="309.9"/><path d="M216.9,307.1L216.8,310.4L214.4,309.3Z"/><line x1="233.3" y1="296.3" x2="236.2" y2="290.4"/><path d="M237.5,287.6L237.3,290.9L235.0,289.8Z"/><line x1="223.4" y1="292.4" x2="220.8" y2="298.4"/><path d="M219.6,301.3L219.6,297.9L222.0,298.9Z"/><line x1="263.5" y1="297.9" x2="260.9" y2="303.9"/><path d="M259.7,306.8L259.7,303.4L262.1,304.4Z"/><line x1="223.7" y1="292.5" x2="221.8" y2="298.8"/><path d="M220.9,301.7L220.6,298.4L223.1,299.1Z"/><line x1="131.0" y1="287.2" x2="127.8" y2="293.0"/><path d="M126.3,295.7L126.7,292.3L129.0,293.6Z"/><line x1="237.0" y1="309.7" x2="234.0" y2="315.6"/><path d="M232.6,318.3L232.9,315.0L235.2,316.2Z"/><line x1="257.8" y1="289.8" x2="255.2" y2="295.9"/><path d="M254.0,298.8L254.0,295.4L256.4,296.4Z"/><line x1="173.4" y1="287.9" x2="176.7" y2="282.2"/><path d="M178.3,279.5L177.9,282.8L175.6,281.5Z"/><line x1="153.2" y1="307.8" x2="156.1" y2="301.7"/><path d="M157.4,298.9L157.3,302.2L154.9,301.1Z"/><line x1="166.7" y1="311.9" x2="158.2" y2="311.1"/><path d="M155.1,310.8L158.3,309.8L158.0,312.4Z"/><line x1="150.4" y1="313.1" x2="147.0" y2="318.9"/><path d="M145.4,321.5L145.9,318.2L148.1,319.5Z"/><line x1="218.5" y1="284.7" x2="215.1" y2="290.5"/><path d="M213.6,293.2L214.0,289.9L216.3,291.2Z"/><line x1="257.1" y1="312.4" x2="254.2" y2="318.6"/><path d="M252.9,321.4L253.0,318.0L255.4,319.2Z"/><line x1="217.1" y1="281.2" x2="208.9" y2="278.7"/><path d="M206.0,277.8L209.3,277.5L208.5,280.0Z"/><line x1="267.5" y1="301.4" x2="259.0" y2="301.6"/><path d="M255.9,301.6L259.0,300.3L259.0,302.9Z"/><line x1="165.3" y1="284.6" x2="161.9" y2="290.5"/><path d="M160.4,293.2L160.8,289.9L163.1,291.2Z"/><line x1="197.4" y1="303.9" x2="194.2" y2="310.0"/><path d="M192.7,312.8L193.0,309.4L195.3,310.6Z"/><line x1="218.4" y1="307.3" x2="214.8" y2="313.1"/><path d="M213.2,315.8L213.7,312.5L215.9,313.8Z"/><line x1="299.6" y1="312.6" x2="302.2" y2="306.1"/><path d="M303.3,303.2L303.4,306.5L301.0,305.6Z"/><line x1="138.1" y1="295.6" x2="134.6" y2="301.6"/><path d="M133.1,304.3L133.5,301.0L135.8,302.3Z"/><line x1="177.4" y1="301.0" x2="174.2" y2="307.2"/><path d="M172.8,310.0L173.0,306.6L175.3,307.8Z"/><line x1="225.3" y1="329.6" x2="216.9" y2="330.7"/><path d="M213.9,331.1L216.8,329.4L217.1,332.0Z"/><line x1="153.6" y1="285.6" x2="156.9" y2="279.4"/><path d="M158.4,276.6L158.1,280.0L155.8,278.7Z"/><line x1="134.4" y1="307.9" x2="142.9" y2="310.3"/><path d="M145.9,311.1L142.6,311.6L143.3,309.0Z"/><line x1="231.0" y1="299.5" x2="240.1" y2="299.9"/><path d="M243.2,300.1L240.0,301.2L240.2,298.6Z"/><line x1="235.4" y1="306.6" x2="226.3" y2="305.5"/><path d="M223.2,305.2L226.4,304.3L226.1,306.8Z"/><line x1="151.0" y1="287.2" x2="150.3" y2="294.2"/><path d="M149.9,297.3L149.0,294.1L151.5,294.4Z"/><line x1="198.1" y1="281.7" x2="194.8" y2="288.4"/><path d="M193.4,291.1L193.6,287.8L196.0,288.9Z"/><line x1="171.3" y1="309.7" x2="175.3" y2="303.6"/><path d="M177.0,301.0L176.4,304.3L174.3,302.9Z"/><line x1="260.8" y1="305.9" x2="252.3" y2="302.5"/><path d="M249.4,301.4L252.7,301.3L251.8,303.7Z"/><line x1="235.9" y1="262.8" x2="226.5" y2="261.5"/><path d="M223.5,261.0L226.7,260.2L226.4,262.8Z"/><line x1="223.3" y1="246.7" x2="213.7" y2="245.6"/><path d="M210.6,245.2L213.8,244.3L213.5,246.9Z"/><line x1="166.3" y1="239.1" x2="156.7" y2="238.0"/><path d="M153.6,237.6L156.8,236.7L156.5,239.3Z"/><line x1="178.6" y1="234.1" x2="169.0" y2="232.5"/><path d="M166.0,232.0L169.2,231.2L168.8,233.8Z"/><line x1="172.3" y1="239.9" x2="182.0" y2="241.2"/><path d="M185.0,241.6L181.8,242.5L182.1,239.9Z"/><line x1="190.7" y1="249.7" x2="181.0" y2="248.4"/><path d="M178.0,247.9L181.2,247.1L180.9,249.6Z"/><line x1="242.2" y1="249.4" x2="232.5" y2="248.0"/><path d="M229.5,247.6L232.7,246.7L232.4,249.3Z"/><line x1="236.5" y1="242.1" x2="226.7" y2="240.9"/><path d="M223.6,240.6L226.8,239.6L226.5,242.2Z"/><line x1="287.0" y1="255.3" x2="296.8" y2="256.4"/><path d="M299.9,256.8L296.7,257.7L297.0,255.2Z"/><line x1="275.0" y1="247.0" x2="265.2" y2="245.4"/><path d="M262.2,244.9L265.4,244.1L265.0,246.7Z"/><line x1="150.9" y1="257.9" x2="160.8" y2="259.6"/><path d="M163.8,260.1L160.6,260.8L161.0,258.3Z"/><line x1="204.4" y1="244.4" x2="194.4" y2="242.9"/><path d="M191.4,242.5L194.6,241.6L194.2,244.2Z"/><line x1="142.6" y1="293.5" x2="152.6" y2="295.0"/><path d="M155.6,295.5L152.4,296.3L152.8,293.7Z"/><line x1="267.7" y1="253.0" x2="277.7" y2="254.2"/><path d="M280.8,254.5L277.6,255.4L277.9,252.9Z"/><line x1="216.2" y1="252.8" x2="226.4" y2="254.1"/><path d="M229.4,254.5L226.2,255.4L226.5,252.8Z"/><line x1="131.4" y1="255.5" x2="141.6" y2="256.7"/><path d="M144.7,257.0L141.5,258.0L141.8,255.4Z"/><line x1="269.2" y1="259.7" x2="259.0" y2="258.5"/><path d="M255.9,258.2L259.1,257.2L258.8,259.8Z"/><line x1="248.5" y1="278.6" x2="238.3" y2="277.4"/><path d="M235.2,277.1L238.4,276.1L238.1,278.7Z"/><line x1="314.4" y1="252.4" x2="304.1" y2="251.0"/><path d="M301.1,250.5L304.3,249.7L304.0,252.3Z"/><line x1="261.7" y1="252.2" x2="251.4" y2="250.7"/><path d="M248.4,250.3L251.6,249.4L251.3,252.0Z"/><line x1="229.3" y1="268.6" x2="239.6" y2="270.2"/><path d="M242.6,270.7L239.4,271.5L239.8,268.9Z"/><line x1="127.8" y1="298.9" x2="138.2" y2="300.4"/><path d="M141.2,300.8L138.0,301.7L138.3,299.1Z"/><line x1="155.2" y1="288.5" x2="165.6" y2="289.8"/><path d="M168.7,290.1L165.5,291.1L165.8,288.5Z"/><line x1="167.8" y1="304.9" x2="178.3" y2="306.2"/><path d="M181.3,306.6L178.1,307.5L178.4,304.9Z"/><line x1="308.7" y1="265.8" x2="298.2" y2="264.4"/><path d="M295.2,263.9L298.4,263.1L298.1,265.6Z"/><line x1="214.5" y1="318.9" x2="225.0" y2="320.3"/><path d="M228.0,320.8L224.8,321.6L225.1,319.1Z"/><line x1="152.6" y1="243.8" x2="142.1" y2="242.7"/><path d="M139.0,242.4L142.2,241.4L141.9,244.0Z"/><line x1="288.9" y1="277.1" x2="299.5" y2="278.7"/><path d="M302.5,279.1L299.3,280.0L299.7,277.4Z"/><line x1="290.1" y1="306.9" x2="279.5" y2="305.2"/><path d="M276.5,304.7L279.7,303.9L279.3,306.5Z"/><line x1="287.4" y1="235.0" x2="298.1" y2="236.4"/><path d="M301.1,236.8L297.9,237.7L298.2,235.1Z"/><line x1="188.2" y1="315.2" x2="177.5" y2="313.7"/><path d="M174.5,313.2L177.7,312.4L177.4,315.0Z"/><line x1="229.0" y1="297.6" x2="218.3" y2="296.6"/><path d="M215.2,296.3L218.4,295.3L218.1,297.9Z"/><line x1="253.9" y1="271.4" x2="264.4" y2="274.1"/><path d="M267.4,274.8L264.1,275.3L264.7,272.8Z"/><line x1="271.2" y1="316.4" x2="274.9" y2="308.4"/><path d="M276.2,305.6L276.1,309.0L273.7,307.9Z"/><line x1="293.8" y1="285.1" x2="304.6" y2="286.5"/><path d="M307.6,286.9L304.4,287.8L304.7,285.2Z"/><line x1="204.4" y1="301.4" x2="207.2" y2="293.0"/><path d="M208.2,290.0L208.4,293.4L206.0,292.6Z"/><line x1="162.9" y1="274.2" x2="173.7" y2="275.8"/><path d="M176.7,276.2L173.5,277.1L173.9,274.5Z"/><line x1="262.7" y1="309.8" x2="259.9" y2="318.3"/><path d="M258.9,321.3L258.6,317.9L261.1,318.7Z"/><line x1="268.9" y1="273.8" x2="279.7" y2="275.6"/><path d="M282.7,276.2L279.5,276.9L279.9,274.4Z"/><line x1="281.2" y1="312.9" x2="292.3" y2="314.5"/><path d="M295.3,314.9L292.1,315.8L292.4,313.2Z"/><line x1="234.2" y1="321.7" x2="245.3" y2="323.3"/><path d="M248.3,323.8L245.1,324.6L245.5,322.1Z"/><line x1="266.3" y1="308.2" x2="276.3" y2="312.6"/><path d="M279.2,313.8L275.8,313.8L276.9,311.4Z"/><line x1="147.4" y1="301.8" x2="158.6" y2="303.5"/><path d="M161.6,304.0L158.4,304.8L158.8,302.2Z"/><line x1="255.7" y1="302.1" x2="267.0" y2="303.4"/><path d="M270.1,303.8L266.9,304.7L267.2,302.2Z"/><line x1="247.7" y1="293.3" x2="259.1" y2="295.1"/><path d="M262.1,295.6L258.9,296.4L259.3,293.8Z"/></g>
<g id="pts" stroke="none"><circle cx="150.9" cy="121.4" r="3.1" fill="#fbe723"/><circle cx="165.6" cy="121.0" r="3.1" fill="#fbe723"/><circle cx="181.4" cy="121.6" r="3.1" fill="#fbe723"/><circle cx="197.4" cy="122.2" r="3.1" fill="#fbe723"/><circle cx="210.9" cy="122.7" r="3.1" fill="#fbe723"/><circle cx="216.1" cy="122.2" r="3.1" fill="#fbe723"/><circle cx="232.6" cy="121.4" r="3.1" fill="#fbe723"/><circle cx="249.0" cy="121.2" r="3.1" fill="#fbe723"/><circle cx="265.2" cy="121.6" r="3.1" fill="#fbe723"/><circle cx="281.6" cy="121.2" r="3.1" fill="#fbe723"/><circle cx="299.5" cy="122.5" r="3.1" fill="#fbe723"/><circle cx="313.2" cy="123.9" r="3.1" fill="#fbe723"/><circle cx="226.9" cy="125.0" r="3.1" fill="#fbe723"/><circle cx="242.1" cy="126.7" r="3.1" fill="#fbe723"/><circle cx="257.4" cy="128.8" r="3.1" fill="#fbe723"/><circle cx="273.2" cy="130.4" r="3.1" fill="#fbe723"/><circle cx="292.8" cy="124.1" r="3.1" fill="#fbe723"/><circle cx="217.2" cy="131.3" r="3.1" fill="#fbe723"/><circle cx="227.3" cy="142.9" r="3.1" fill="#fbe723"/><circle cx="237.5" cy="154.4" r="3.1" fill="#fbe723"/><circle cx="247.8" cy="166.4" r="3.1" fill="#fbe723"/><circle cx="258.3" cy="178.6" r="3.1" fill="#fbe723"/><circle cx="263.1" cy="183.2" r="3.1" fill="#fbe723"/><circle cx="287.7" cy="133.4" r="3.1" fill="#fbe723"/><circle cx="283.1" cy="143.3" r="3.1" fill="#fbe723"/><circle cx="278.3" cy="153.0" r="3.1" fill="#fbe723"/><circle cx="273.2" cy="162.4" r="3.1" fill="#fbe723"/><circle cx="268.0" cy="172.7" r="3.1" fill="#fbe723"/><circle cx="312.5" cy="134.0" r="3.1" fill="#fbe723"/><circle cx="311.5" cy="143.9" r="3.1" fill="#fbe723"/><circle cx="309.4" cy="154.4" r="3.1" fill="#fbe723"/><circle cx="308.3" cy="165.0" r="3.1" fill="#fbe723"/><circle cx="305.2" cy="174.8" r="3.1" fill="#fbe723"/><circle cx="302.0" cy="185.3" r="3.1" fill="#fbe723"/><circle cx="149.0" cy="131.5" r="3.1" fill="#fbe723"/><circle cx="144.6" cy="141.4" r="3.1" fill="#fbe723"/><circle cx="140.4" cy="151.3" r="3.1" fill="#fbe723"/><circle cx="138.3" cy="161.8" r="3.1" fill="#fbe723"/><circle cx="135.8" cy="172.3" r="3.1" fill="#fbe723"/><circle cx="131.6" cy="182.8" r="3.1" fill="#fbe723"/><circle cx="138.9" cy="188.1" r="3.1" fill="#fbe723"/><circle cx="156.8" cy="187.7" r="3.1" fill="#fbe723"/><circle cx="174.3" cy="187.0" r="3.1" fill="#fbe723"/><circle cx="191.5" cy="186.6" r="3.1" fill="#fbe723"/><circle cx="208.3" cy="187.0" r="3.1" fill="#fbe723"/><circle cx="224.7" cy="189.3" r="3.1" fill="#fbe723"/><circle cx="242.2" cy="188.9" r="3.1" fill="#fbe723"/><circle cx="259.1" cy="189.6" r="3.1" fill="#fbe723"/><circle cx="271.1" cy="187.2" r="3.1" fill="#fbe723"/><circle cx="274.9" cy="188.9" r="3.1" fill="#fbe723"/><circle cx="288.0" cy="187.8" r="3.1" fill="#fbe723"/><circle cx="139.3" cy="197.0" r="3.1" fill="#dde318"/><circle cx="139.3" cy="206.6" r="3.1" fill="#c0df25"/><circle cx="139.3" cy="215.7" r="3.1" fill="#a2da37"/><circle cx="139.3" cy="225.2" r="3.1" fill="#86d549"/><circle cx="139.3" cy="234.6" r="3.1" fill="#6ccd5a"/><circle cx="140.0" cy="243.5" r="3.1" fill="#54c568"/><circle cx="271.0" cy="199.3" r="3.1" fill="#d0e11c"/><circle cx="271.0" cy="212.5" r="3.1" fill="#a2da37"/><circle cx="271.0" cy="225.4" r="3.1" fill="#81d34d"/><circle cx="271.0" cy="238.0" r="3.1" fill="#67cc5c"/><circle cx="270.5" cy="250.9" r="3.1" fill="#54c568"/><circle cx="271.3" cy="219.4" r="3.1" fill="#1f948c"/><circle cx="157.6" cy="201.6" r="3.1" fill="#35b779"/><circle cx="173.6" cy="202.0" r="3.1" fill="#35b779"/><circle cx="190.0" cy="202.0" r="3.1" fill="#35b779"/><circle cx="205.7" cy="202.4" r="3.1" fill="#35b779"/><circle cx="222.2" cy="202.2" r="3.1" fill="#35b779"/><circle cx="238.0" cy="202.4" r="3.1" fill="#35b779"/><circle cx="254.4" cy="202.2" r="3.1" fill="#35b779"/><circle cx="270.5" cy="203.4" r="3.1" fill="#35b779"/><circle cx="286.5" cy="202.4" r="3.1" fill="#35b779"/><circle cx="302.3" cy="203.0" r="3.1" fill="#35b779"/><circle cx="315.2" cy="205.9" r="3.1" fill="#35b779"/><circle cx="312.6" cy="216.2" r="3.1" fill="#35b779"/><circle cx="310.0" cy="226.9" r="3.1" fill="#35b779"/><circle cx="309.2" cy="237.8" r="3.1" fill="#35b779"/><circle cx="306.0" cy="248.3" r="3.1" fill="#35b779"/><circle cx="305.4" cy="258.9" r="3.1" fill="#35b779"/><circle cx="309.4" cy="224.6" r="3.1" fill="#1f948c"/><circle cx="304.3" cy="237.2" r="3.1" fill="#1f948c"/><circle cx="309.4" cy="244.4" r="3.1" fill="#25838e"/><circle cx="303.1" cy="257.2" r="3.1" fill="#25838e"/><circle cx="317.4" cy="252.8" r="3.1" fill="#1f948c"/><circle cx="311.7" cy="266.2" r="3.1" fill="#1f948c"/><circle cx="305.7" cy="279.6" r="3.1" fill="#1f948c"/><circle cx="310.8" cy="287.3" r="3.1" fill="#25838e"/><circle cx="304.5" cy="300.2" r="3.1" fill="#25838e"/><circle cx="298.5" cy="315.4" r="3.1" fill="#1f948c"/><circle cx="293.1" cy="307.4" r="3.1" fill="#1f948c"/><circle cx="299.7" cy="293.5" r="3.1" fill="#1f948c"/><circle cx="297.9" cy="250.1" r="3.1" fill="#1f948c"/><circle cx="292.0" cy="263.5" r="3.1" fill="#1f948c"/><circle cx="284.4" cy="234.6" r="3.1" fill="#1f948c"/><circle cx="285.9" cy="276.7" r="3.1" fill="#1f948c"/><circle cx="290.8" cy="284.7" r="3.1" fill="#25838e"/><circle cx="278.6" cy="290.5" r="3.1" fill="#1f948c"/><circle cx="284.8" cy="298.3" r="3.1" fill="#25838e"/><circle cx="278.0" cy="247.5" r="3.1" fill="#1f948c"/><circle cx="284.0" cy="254.9" r="3.1" fill="#25838e"/><circle cx="153.9" cy="211.6" r="3.1" fill="#35b779"/><circle cx="150.7" cy="217.1" r="3.1" fill="#1f948c"/><circle cx="147.9" cy="221.7" r="3.1" fill="#35b779"/><circle cx="143.6" cy="229.2" r="3.1" fill="#1f948c"/><circle cx="146.5" cy="232.0" r="3.1" fill="#35b779"/><circle cx="150.4" cy="237.2" r="3.1" fill="#1f948c"/><circle cx="162.8" cy="231.5" r="3.1" fill="#1f948c"/><circle cx="169.8" cy="219.2" r="3.1" fill="#1f948c"/><circle cx="169.3" cy="239.5" r="3.1" fill="#25838e"/><circle cx="135.8" cy="242.1" r="3.1" fill="#25838e"/><circle cx="155.6" cy="244.1" r="3.1" fill="#1f948c"/><circle cx="188.7" cy="221.9" r="3.1" fill="#1f948c"/><circle cx="207.7" cy="224.6" r="3.1" fill="#1f948c"/><circle cx="181.6" cy="234.6" r="3.1" fill="#1f948c"/><circle cx="200.8" cy="236.6" r="3.1" fill="#1f948c"/><circle cx="202.9" cy="241.3" r="3.1" fill="#35b779"/><circle cx="188.2" cy="242.0" r="3.1" fill="#25838e"/><circle cx="220.4" cy="240.2" r="3.1" fill="#1f948c"/><circle cx="226.3" cy="226.9" r="3.1" fill="#1f948c"/><circle cx="245.8" cy="229.7" r="3.1" fill="#1f948c"/><circle cx="239.5" cy="242.4" r="3.1" fill="#1f948c"/><circle cx="265.3" cy="232.0" r="3.1" fill="#1f948c"/><circle cx="259.0" cy="244.4" r="3.1" fill="#1f948c"/><circle cx="143.3" cy="249.8" r="3.1" fill="#2c718e"/><circle cx="150.7" cy="248.9" r="3.1" fill="#2c718e"/><circle cx="162.2" cy="252.6" r="3.1" fill="#2c718e"/><circle cx="168.5" cy="254.9" r="3.1" fill="#35b779"/><circle cx="128.4" cy="255.1" r="3.1" fill="#1f948c"/><circle cx="139.6" cy="253.5" r="3.1" fill="#35b779"/><circle cx="147.9" cy="257.4" r="3.1" fill="#1f948c"/><circle cx="150.7" cy="260.9" r="3.1" fill="#2c718e"/><circle cx="167.0" cy="260.6" r="3.1" fill="#1f948c"/><circle cx="135.2" cy="264.1" r="3.1" fill="#35b779"/><circle cx="139.6" cy="262.4" r="3.1" fill="#35b779"/><circle cx="146.5" cy="263.9" r="3.1" fill="#35b779"/><circle cx="155.0" cy="265.5" r="3.1" fill="#2c718e"/><circle cx="120.3" cy="268.5" r="3.1" fill="#1f948c"/><circle cx="133.5" cy="272.1" r="3.1" fill="#35b779"/><circle cx="140.1" cy="271.2" r="3.1" fill="#35b779"/><circle cx="148.4" cy="271.0" r="3.1" fill="#35b779"/><circle cx="151.3" cy="272.1" r="3.1" fill="#33628d"/><circle cx="158.2" cy="269.3" r="3.1" fill="#35b779"/><circle cx="159.9" cy="273.8" r="3.1" fill="#1f948c"/><circle cx="167.0" cy="269.3" r="3.1" fill="#35b779"/><circle cx="127.8" cy="276.7" r="3.1" fill="#2c718e"/><circle cx="146.9" cy="279.0" r="3.1" fill="#2c718e"/><circle cx="155.0" cy="279.0" r="3.1" fill="#2c718e"/><circle cx="151.3" cy="284.2" r="3.1" fill="#33628d"/><circle cx="132.4" cy="284.6" r="3.1" fill="#1f948c"/><circle cx="166.8" cy="282.0" r="3.1" fill="#1f948c"/><circle cx="170.2" cy="279.6" r="3.1" fill="#33628d"/><circle cx="152.2" cy="288.2" r="3.1" fill="#1f948c"/><circle cx="120.2" cy="290.1" r="3.1" fill="#25838e"/><circle cx="139.6" cy="293.0" r="3.1" fill="#25838e"/><circle cx="151.3" cy="295.8" r="3.1" fill="#424086"/><circle cx="158.8" cy="296.0" r="3.1" fill="#25838e"/><circle cx="124.8" cy="298.5" r="3.1" fill="#1f948c"/><circle cx="207.4" cy="244.8" r="3.1" fill="#25838e"/><circle cx="174.8" cy="247.5" r="3.1" fill="#1f948c"/><circle cx="193.7" cy="250.1" r="3.1" fill="#1f948c"/><circle cx="202.9" cy="250.3" r="3.1" fill="#35b779"/><circle cx="213.2" cy="252.4" r="3.1" fill="#1f948c"/><circle cx="181.1" cy="255.5" r="3.1" fill="#25838e"/><circle cx="185.6" cy="254.7" r="3.1" fill="#35b779"/><circle cx="200.6" cy="256.6" r="3.1" fill="#35b779"/><circle cx="202.9" cy="259.5" r="3.1" fill="#1f948c"/><circle cx="216.6" cy="258.4" r="3.1" fill="#35b779"/><circle cx="220.3" cy="260.6" r="3.1" fill="#25838e"/><circle cx="186.8" cy="262.9" r="3.1" fill="#1f948c"/><circle cx="205.5" cy="265.6" r="3.1" fill="#1f948c"/><circle cx="174.8" cy="270.1" r="3.1" fill="#35b779"/><circle cx="183.4" cy="270.4" r="3.1" fill="#35b779"/><circle cx="192.5" cy="270.1" r="3.1" fill="#35b779"/><circle cx="200.6" cy="269.3" r="3.1" fill="#35b779"/><circle cx="202.9" cy="268.1" r="3.1" fill="#1f948c"/><circle cx="209.2" cy="270.7" r="3.1" fill="#35b779"/><circle cx="217.2" cy="270.7" r="3.1" fill="#35b779"/><circle cx="212.6" cy="273.8" r="3.1" fill="#2c718e"/><circle cx="179.9" cy="276.7" r="3.1" fill="#1f948c"/><circle cx="186.2" cy="280.2" r="3.1" fill="#33628d"/><circle cx="199.4" cy="279.0" r="3.1" fill="#1f948c"/><circle cx="202.9" cy="276.9" r="3.1" fill="#1f948c"/><circle cx="220.0" cy="282.1" r="3.1" fill="#1f948c"/><circle cx="186.2" cy="284.7" r="3.1" fill="#2c718e"/><circle cx="203.7" cy="285.0" r="3.1" fill="#2c718e"/><circle cx="209.2" cy="287.0" r="3.1" fill="#33628d"/><circle cx="214.9" cy="289.3" r="3.1" fill="#33628d"/><circle cx="171.9" cy="290.5" r="3.1" fill="#1f948c"/><circle cx="192.0" cy="294.0" r="3.1" fill="#1f948c"/><circle cx="203.2" cy="294.8" r="3.1" fill="#25838e"/><circle cx="212.0" cy="296.0" r="3.1" fill="#1f948c"/><circle cx="221.2" cy="297.4" r="3.1" fill="#33628d"/><circle cx="178.8" cy="298.3" r="3.1" fill="#25838e"/><circle cx="224.6" cy="289.6" r="3.1" fill="#1f948c"/><circle cx="226.3" cy="247.1" r="3.1" fill="#25838e"/><circle cx="245.2" cy="249.8" r="3.1" fill="#25838e"/><circle cx="264.7" cy="252.6" r="3.1" fill="#25838e"/><circle cx="232.6" cy="254.9" r="3.1" fill="#1f948c"/><circle cx="252.7" cy="257.8" r="3.1" fill="#1f948c"/><circle cx="232.6" cy="261.2" r="3.1" fill="#35b779"/><circle cx="238.9" cy="263.2" r="3.1" fill="#25838e"/><circle cx="248.7" cy="262.9" r="3.1" fill="#35b779"/><circle cx="257.9" cy="265.5" r="3.1" fill="#25838e"/><circle cx="264.2" cy="265.5" r="3.1" fill="#35b779"/><circle cx="270.5" cy="262.9" r="3.1" fill="#35b779"/><circle cx="272.2" cy="260.1" r="3.1" fill="#1f948c"/><circle cx="226.3" cy="268.1" r="3.1" fill="#1f948c"/><circle cx="224.6" cy="271.5" r="3.1" fill="#35b779"/><circle cx="233.2" cy="272.4" r="3.1" fill="#35b779"/><circle cx="241.2" cy="272.4" r="3.1" fill="#35b779"/><circle cx="245.8" cy="271.2" r="3.1" fill="#1f948c"/><circle cx="251.0" cy="270.7" r="3.1" fill="#35b779"/><circle cx="259.6" cy="270.4" r="3.1" fill="#35b779"/><circle cx="265.9" cy="273.3" r="3.1" fill="#1f948c"/><circle cx="268.2" cy="270.7" r="3.1" fill="#35b779"/><circle cx="270.5" cy="275.6" r="3.1" fill="#35b779"/><circle cx="276.8" cy="271.0" r="3.1" fill="#35b779"/><circle cx="232.0" cy="276.7" r="3.1" fill="#25838e"/><circle cx="251.5" cy="279.0" r="3.1" fill="#25838e"/><circle cx="271.0" cy="281.9" r="3.1" fill="#25838e"/><circle cx="238.9" cy="284.7" r="3.1" fill="#1f948c"/><circle cx="259.0" cy="287.0" r="3.1" fill="#1f948c"/><circle cx="269.9" cy="288.8" r="3.1" fill="#1f948c"/><circle cx="244.7" cy="292.8" r="3.1" fill="#25838e"/><circle cx="264.7" cy="295.1" r="3.1" fill="#25838e"/><circle cx="232.0" cy="297.9" r="3.1" fill="#1f948c"/><circle cx="226.9" cy="297.9" r="3.1" fill="#33628d"/><circle cx="279.0" cy="267.5" r="3.1" fill="#35b779"/><circle cx="284.8" cy="271.0" r="3.1" fill="#35b779"/><circle cx="293.9" cy="270.4" r="3.1" fill="#35b779"/><circle cx="297.4" cy="270.1" r="3.1" fill="#35b779"/><circle cx="302.5" cy="270.7" r="3.1" fill="#35b779"/><circle cx="144.4" cy="301.3" r="3.1" fill="#1f948c"/><circle cx="149.6" cy="300.5" r="3.1" fill="#2c718e"/><circle cx="164.8" cy="304.5" r="3.1" fill="#1f948c"/><circle cx="131.5" cy="307.1" r="3.1" fill="#25838e"/><circle cx="151.5" cy="307.0" r="3.1" fill="#424086"/><circle cx="149.0" cy="312.0" r="3.1" fill="#2c718e"/><circle cx="151.9" cy="310.5" r="3.1" fill="#1f948c"/><circle cx="169.7" cy="312.2" r="3.1" fill="#1f948c"/><circle cx="151.5" cy="318.8" r="3.1" fill="#472d7b"/><circle cx="123.8" cy="321.1" r="3.1" fill="#1f948c"/><circle cx="143.8" cy="324.3" r="3.1" fill="#1f948c"/><circle cx="157.8" cy="325.2" r="3.1" fill="#2c718e"/><circle cx="151.6" cy="330.0" r="3.1" fill="#481769"/><circle cx="167.5" cy="338.6" r="3.1" fill="#33628d"/><circle cx="151.6" cy="341.5" r="3.1" fill="#46075a"/><circle cx="212.0" cy="299.6" r="3.1" fill="#2c718e"/><circle cx="184.5" cy="307.0" r="3.1" fill="#1f948c"/><circle cx="198.8" cy="301.3" r="3.1" fill="#25838e"/><circle cx="203.4" cy="304.2" r="3.1" fill="#2c718e"/><circle cx="218.3" cy="304.2" r="3.1" fill="#25838e"/><circle cx="171.3" cy="312.8" r="3.1" fill="#1f948c"/><circle cx="191.2" cy="315.6" r="3.1" fill="#1f948c"/><circle cx="203.4" cy="312.8" r="3.1" fill="#2c718e"/><circle cx="206.9" cy="310.5" r="3.1" fill="#2c718e"/><circle cx="211.5" cy="318.5" r="3.1" fill="#1f948c"/><circle cx="202.9" cy="321.6" r="3.1" fill="#33628d"/><circle cx="220.1" cy="328.3" r="3.1" fill="#33628d"/><circle cx="210.7" cy="331.5" r="3.1" fill="#33628d"/><circle cx="201.5" cy="332.9" r="3.1" fill="#33628d"/><circle cx="180.0" cy="341.9" r="3.1" fill="#33628d"/><circle cx="228.0" cy="299.4" r="3.1" fill="#33628d"/><circle cx="232.0" cy="299.0" r="3.1" fill="#1f948c"/><circle cx="246.4" cy="300.2" r="3.1" fill="#33628d"/><circle cx="252.7" cy="301.7" r="3.1" fill="#1f948c"/><circle cx="263.0" cy="299.6" r="3.1" fill="#33628d"/><circle cx="265.3" cy="296.1" r="3.1" fill="#1f948c"/><circle cx="270.5" cy="301.3" r="3.1" fill="#1f948c"/><circle cx="273.3" cy="304.2" r="3.1" fill="#1f948c"/><circle cx="277.6" cy="302.7" r="3.1" fill="#33628d"/><circle cx="220.0" cy="304.8" r="3.1" fill="#1f948c"/><circle cx="238.4" cy="307.0" r="3.1" fill="#1f948c"/><circle cx="263.6" cy="307.0" r="3.1" fill="#33628d"/><circle cx="258.4" cy="309.7" r="3.1" fill="#1f948c"/><circle cx="278.2" cy="312.5" r="3.1" fill="#1f948c"/><circle cx="231.2" cy="321.2" r="3.1" fill="#1f948c"/><circle cx="269.9" cy="319.1" r="3.1" fill="#33628d"/><circle cx="251.5" cy="324.3" r="3.1" fill="#1f948c"/><circle cx="257.9" cy="324.3" r="3.1" fill="#33628d"/><circle cx="265.7" cy="324.3" r="3.1" fill="#33628d"/><circle cx="272.8" cy="326.0" r="3.1" fill="#1f948c"/><circle cx="228.3" cy="329.2" r="3.1" fill="#33628d"/><circle cx="236.6" cy="329.2" r="3.1" fill="#33628d"/><circle cx="247.0" cy="329.2" r="3.1" fill="#33628d"/><circle cx="257.9" cy="332.3" r="3.1" fill="#33628d"/><circle cx="257.9" cy="340.9" r="3.1" fill="#375a8c"/><circle cx="257.6" cy="349.6" r="3.1" fill="#3d4e8a"/><circle cx="257.5" cy="358.1" r="3.1" fill="#423f85"/><circle cx="257.4" cy="366.6" r="3.1" fill="#472f7d"/><circle cx="257.4" cy="375.4" r="3.1" fill="#482173"/><circle cx="257.4" cy="384.0" r="3.1" fill="#481467"/><circle cx="257.4" cy="392.3" r="3.1" fill="#46075a"/><circle cx="282.1" cy="315.1" r="3.1" fill="#33628d"/><circle cx="283.0" cy="326.9" r="3.1" fill="#33628d"/><circle cx="275.2" cy="325.4" r="3.1" fill="#33628d"/><circle cx="164.3" cy="360.8" r="3.1" fill="#46075a"/><circle cx="170.7" cy="355.9" r="3.1" fill="#46075a"/><circle cx="186.5" cy="355.3" r="3.1" fill="#46075a"/><circle cx="200.8" cy="358.8" r="3.1" fill="#46075a"/><circle cx="214.7" cy="366.6" r="3.1" fill="#46075a"/><circle cx="232.1" cy="367.7" r="3.1" fill="#46075a"/><circle cx="248.9" cy="366.1" r="3.1" fill="#46075a"/><circle cx="173.5" cy="373.9" r="3.1" fill="#46075a"/><circle cx="206.3" cy="374.3" r="3.1" fill="#46075a"/><circle cx="220.9" cy="375.1" r="3.1" fill="#46075a"/><circle cx="182.9" cy="387.5" r="3.1" fill="#46075a"/><circle cx="201.6" cy="385.5" r="3.1" fill="#46075a"/><circle cx="230.5" cy="388.0" r="3.1" fill="#46075a"/><circle cx="196.4" cy="396.7" r="3.1" fill="#46075a"/><circle cx="192.3" cy="400.6" r="3.1" fill="#46075a"/><circle cx="202.9" cy="398.9" r="3.1" fill="#46075a"/><circle cx="205.8" cy="398.2" r="3.1" fill="#46075a"/><circle cx="222.0" cy="394.3" r="3.1" fill="#46075a"/><circle cx="224.1" cy="394.9" r="3.1" fill="#46075a"/><circle cx="242.8" cy="394.9" r="3.1" fill="#46075a"/><circle cx="244.5" cy="394.4" r="3.1" fill="#46075a"/><circle cx="256.2" cy="401.0" r="3.1" fill="#46075a"/><circle cx="262.8" cy="402.0" r="3.1" fill="#46075a"/><circle cx="260.2" cy="394.0" r="3.1" fill="#46075a"/><circle cx="264.4" cy="366.8" r="3.1" fill="#46075a"/><circle cx="277.6" cy="373.1" r="3.1" fill="#46075a"/><circle cx="268.9" cy="383.6" r="3.1" fill="#46075a"/></g>
<g id="labels"><text x="29.95" y="209.60" text-anchor="middle">1.0</text><text x="30.60" y="263.80" text-anchor="middle">0.5</text><text x="32.60" y="316.80" text-anchor="middle">0.0</text><text x="35.10" y="368.90" text-anchor="middle">−0.5</text><text x="35.85" y="420.40" text-anchor="middle">−1.0</text><text x="55.65" y="485.55" text-anchor="middle">0.0</text><text x="93.95" y="492.05" text-anchor="middle">1.0</text><text x="132.05" y="497.95" text-anchor="middle">2.0</text><text x="172.00" y="504.30" text-anchor="middle">3.0</text><text x="210.65" y="510.60" text-anchor="middle">4.0</text><text x="250.05" y="517.85" text-anchor="middle">5.0</text><text x="290.60" y="523.15" text-anchor="middle">6.0</text><text x="363.30" y="382.80" text-anchor="middle">0.5</text><text x="358.25" y="396.45" text-anchor="middle">1.0</text><text x="353.35" y="410.70" text-anchor="middle">1.5</text><text x="347.95" y="424.85" text-anchor="middle">2.0</text><text x="342.70" y="438.40" text-anchor="middle">2.5</text><text x="336.85" y="453.30" text-anchor="middle">3.0</text><text x="331.05" y="468.00" text-anchor="middle">3.5</text><text x="326.25" y="483.15" text-anchor="middle">4.0</text><text x="319.50" y="498.45" text-anchor="middle">4.5</text><text x="313.80" y="515.35" text-anchor="middle">5.0</text><text x="484.30" y="23.10" text-anchor="start">1.0</text><text x="484.40" y="137.00" text-anchor="start">0.5</text><text x="484.30" y="252.40" text-anchor="start">0.0</text><text x="484.50" y="366.30" text-anchor="start">−0.5</text><text x="484.10" y="481.55" text-anchor="start">−1.0</text><text x="166.50" y="524.60" text-anchor="middle" transform="rotate(9.0 166.5 524.6000000000001)">y (m)</text><text x="358.00" y="457.55" text-anchor="middle" transform="rotate(-68.6 358.0 457.55000000000007)">x (m)</text><text x="8.50" y="326.90" text-anchor="middle" transform="rotate(88.6 8.5 326.90000000000003)">z (m)</text></g>
<g id="cbar"><defs><linearGradient id="vg" x1="0" y1="0" x2="0" y2="1"><stop offset="0.0000" stop-color="#fde725"/><stop offset="0.0312" stop-color="#ece51b"/><stop offset="0.0625" stop-color="#d8e219"/><stop offset="0.0938" stop-color="#c2df23"/><stop offset="0.1250" stop-color="#addc30"/><stop offset="0.1562" stop-color="#98d83e"/><stop offset="0.1875" stop-color="#84d44b"/><stop offset="0.2188" stop-color="#70cf57"/><stop offset="0.2500" stop-color="#5ec962"/><stop offset="0.2812" stop-color="#4ec36b"/><stop offset="0.3125" stop-color="#3fbc73"/><stop offset="0.3438" stop-color="#32b67a"/><stop offset="0.3750" stop-color="#28ae80"/><stop offset="0.4062" stop-color="#22a785"/><stop offset="0.4375" stop-color="#1fa088"/><stop offset="0.4688" stop-color="#1f988b"/><stop offset="0.5000" stop-color="#21918c"/><stop offset="0.5312" stop-color="#23898e"/><stop offset="0.5625" stop-color="#26828e"/><stop offset="0.5938" stop-color="#297a8e"/><stop offset="0.6250" stop-color="#2c728e"/><stop offset="0.6562" stop-color="#2f6b8e"/><stop offset="0.6875" stop-color="#33638d"/><stop offset="0.7188" stop-color="#375b8d"/><stop offset="0.7500" stop-color="#3b528b"/><stop offset="0.7812" stop-color="#3e4989"/><stop offset="0.8125" stop-color="#424086"/><stop offset="0.8438" stop-color="#453781"/><stop offset="0.8750" stop-color="#472d7b"/><stop offset="0.9062" stop-color="#482374"/><stop offset="0.9375" stop-color="#48186a"/><stop offset="0.9688" stop-color="#470d60"/><stop offset="1.0000" stop-color="#440154"/></linearGradient></defs><rect x="449.8" y="8.7" width="26.50" height="534.00" fill="url(#vg)" stroke="#000" stroke-width="1.02"/><line x1="476.3" y1="18.98" x2="480.77" y2="18.98" stroke="#000" stroke-width="1.02"/><line x1="476.3" y1="133.18" x2="480.77" y2="133.18" stroke="#000" stroke-width="1.02"/><line x1="476.3" y1="247.38" x2="480.77" y2="247.38" stroke="#000" stroke-width="1.02"/><line x1="476.3" y1="361.58" x2="480.77" y2="361.58" stroke="#000" stroke-width="1.02"/><line x1="476.3" y1="475.78" x2="480.77" y2="475.78" stroke="#000" stroke-width="1.02"/></g>
</svg></div></body></html>
